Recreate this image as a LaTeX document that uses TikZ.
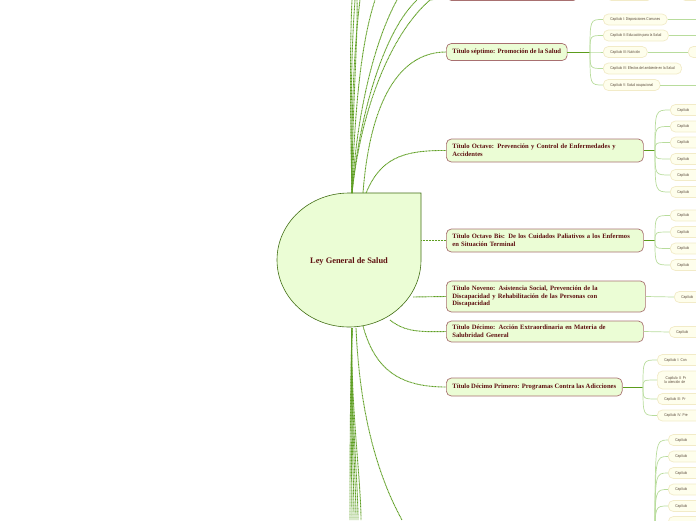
\documentclass[tikz,border=0pt]{standalone}
\usepackage{fontspec}
\setmainfont{Liberation Serif}
\setsansfont{Liberation Sans}[FakeStretch=0.8]
\begin{document}
\begin{tikzpicture}[x=1pt,y=-1pt,
  tbox/.style={draw=tborder,fill=tfill,rounded corners=5pt,line width=0.7pt,inner xsep=6pt,inner ysep=2pt,
    font=\fontsize{6.6}{7.6}\selectfont\bfseries,text=ttext,align=left,anchor=west,minimum height=17pt},
  cbox/.style={draw=cborder,fill=cfill,rounded corners=5pt,line width=0.7pt,inner xsep=7pt,inner ysep=1pt,
    font=\fontsize{4}{4.8}\selectfont\sffamily,text=ctext,align=left,anchor=west,minimum height=11pt},
  main/.style={draw=mborder,line width=0.9pt,dash pattern=on 1pt off 0.5pt},
  sub/.style={draw=sline,line width=0.7pt},
  hub/.style={draw=hline,line width=1pt}]
\definecolor{tborder}{HTML}{A87070}
\definecolor{tfill}{HTML}{EBFDD5}
\definecolor{ttext}{HTML}{5E1010}
\definecolor{cborder}{HTML}{F2EBC8}
\definecolor{cfill}{HTML}{FEFEEC}
\definecolor{ctext}{HTML}{5A4A3A}
\definecolor{mborder}{HTML}{5E9E22}
\definecolor{sline}{HTML}{B8DC9C}
\definecolor{hline}{HTML}{5C9C1C}
\useasboundingbox (0,0) rectangle (696,520);
\clip (0,0) rectangle (696,520);

% central node
\fill[tfill] (421,193) -- (421,260) arc (0:-90:72 and -67) arc (-90:-270:72 and -67) -- cycle;
\draw[hline!70!black,line width=0.6pt] (349,193) -- (421,193) -- (421,260) arc (0:-90:72 and -67) arc (-90:-270:72 and -67);
\node[font=\fontsize{8.4}{9}\selectfont\bfseries,text=ttext] (ley) at (349,261) {Ley General de Salud};
\coordinate (top) at (352,193);
\coordinate (bot) at (352,328);

% top partial node
\node[tbox,minimum width=132pt] (t6) at (446,-8) {};
\node[cbox,minimum width=46pt] (t6a) at (606,-5) {};
\node[cbox,minimum width=30pt] (t6b) at (680,-5) {};

% titles
\node[tbox] (t7) at (446,52) {Título séptimo: Promoción de la Salud};
\node[tbox,text width=185pt,minimum height=23pt] (t8) at (446,150.5) {Título Octavo: Prevención y Control de Enfermedades y\\Accidentes};
\node[tbox,text width=185pt,minimum height=23pt] (t8b) at (446,240.5) {Título Octavo Bis: De los Cuidados Paliativos a los Enfermos\\en Situación Terminal};
\node[tbox,text width=187pt,minimum height=31pt] (t9) at (446,296.5) {Título Noveno: Asistencia Social, Prevención de la\\Discapacidad y Rehabilitación de las Personas con\\Discapacidad};
\node[tbox,text width=185pt,minimum height=21pt] (t10) at (446,331.5) {Título Décimo: Acción Extraordinaria en Materia de\\Salubridad General};
\node[tbox,minimum height=18pt] (t11) at (446,387) {Título Décimo Primero: Programas Contra las Adicciones};

% main connectors
\draw[main] (top) .. controls (350,100) and (352,40) .. (355,0);
\draw[main] (top) .. controls (351,100) and (355,40) .. (360,0);
\draw[main] (top) .. controls (350,110) and (350,40) .. (352,0);
\draw[main] (top) .. controls (352,110) and (358,40) .. (357,0);
\draw[main] (top) .. controls (355,100) and (362,40) .. (375,0);
\draw[main] (top) .. controls (357,110) and (375,40) .. (397,0);
\draw[main] (top) .. controls (360,110) and (385,30) .. (417,0);
\draw[main] (top) .. controls (362,100) and (395,30) .. (430,0) -- (446,-2);
\draw[main] (363,193) .. controls (370,100) and (400,52) .. (t7.west);
\draw[main] (366,193) .. controls (380,160) and (400,150) .. (t8.west);
\draw[main] (421,240.5) -- (t8b.west);
\draw[main] (413,297) -- (t9.west);
\draw[main] (390,320) .. controls (405,332) and (420,332) .. (t10.west);
\draw[main] (363,326) .. controls (375,370) and (400,387) .. (t11.west);
\foreach \e in {350,352,354,356,358,361} \draw[main] (bot) .. controls (350,400) and (\e,480) .. (\e,520);
\draw[main] (356,328) .. controls (360,420) and (380,480) .. (402,520);

% Título séptimo chapters
\node[cbox] (c71) at (603,19.5) {Capítulo I: Disposiciones Comunes};
\node[cbox] (c72) at (603,35.5) {Capítulo II: Educación para la Salud};
\node[cbox] (c73) at (603,52) {Capítulo III: Nutrición};
\node[cbox] (c74) at (603,68.5) {Capítulo IV: Efectos del ambiente en la Salud};
\node[cbox] (c75) at (603,85) {Capítulo V: Salud ocupacional};
\coordinate (j7) at (590,52);
\draw[hub] (t7.east) -- (j7);
\foreach \c in {c71,c72,c73,c74,c75} \draw[sub] (j7) .. controls (j7 |- \c.west) .. (\c.west);
\node[cbox,minimum width=20pt] (c73a) at (688,52) {};
\draw[sub] (c71.east) -- (696,19.5);
\draw[sub] (c72.east) -- (696,35.5);
\draw[sub] (c73.east) -- (c73a.west);
\draw[sub] (c75.east) -- (696,85);

% Título Octavo chapters
\coordinate (j8) at (655,150.5);
\draw[hub] (t8.east) -- (j8);
\foreach \y [count=\i] in {110,126.5,142.5,159,175,192}{
  \node[cbox,text width=40pt] (c8\i) at (670,\y) {Capítulo};
  \draw[sub] (j8) .. controls (j8 |- c8\i.west) .. (c8\i.west);}

% Octavo Bis chapters
\coordinate (j8b) at (655,240.5);
\draw[hub] (t8b.east) -- (j8b);
\foreach \y [count=\i] in {215.5,232,248.5,265}{
  \node[cbox,text width=40pt] (c8b\i) at (670,\y) {Capítulo};
  \draw[sub] (j8b) .. controls (j8b |- c8b\i.west) .. (c8b\i.west);}

% Noveno
\node[cbox,text width=40pt] (c91) at (674,297) {Capítulo};
\draw[sub] (t9.east) -- (c91.west);
% Décimo
\node[cbox,text width=40pt] (c101) at (669,332) {Capítulo};
\draw[sub] (t10.east) -- (c101.west);

% Décimo Primero
\coordinate (j11) at (643,387);
\draw[hub] (t11.east) -- (j11);
\node[cbox,text width=60pt] (c111) at (657,360) {Capítulo I: Con};
\node[cbox,text width=60pt,minimum height=18pt] (c112) at (657,380) {\ Capítulo II: Pr\\la atención de};
\node[cbox,text width=60pt] (c113) at (657,399) {Capítulo III: Pr};
\node[cbox,text width=60pt] (c114) at (657,415.5) {Capítulo IV: Pre};
\foreach \c in {c111,c112,c113,c114} \draw[sub] (j11) .. controls (j11 |- \c.west) .. (\c.west);

% bottom group
\coordinate (j12) at (655,540);
\foreach \y [count=\i] in {440,456.5,473,489.5,506}{
  \node[cbox,text width=40pt] (c12\i) at (668,\y) {Capítulo};
  \draw[sub] (j12) .. controls (j12 |- c12\i.west) .. (c12\i.west);}
\node[cbox,text width=40pt] (c126) at (668,522) {};
\draw[sub] (j12) .. controls (j12 |- c126.west) .. (c126.west);
\end{tikzpicture}
\end{document}
